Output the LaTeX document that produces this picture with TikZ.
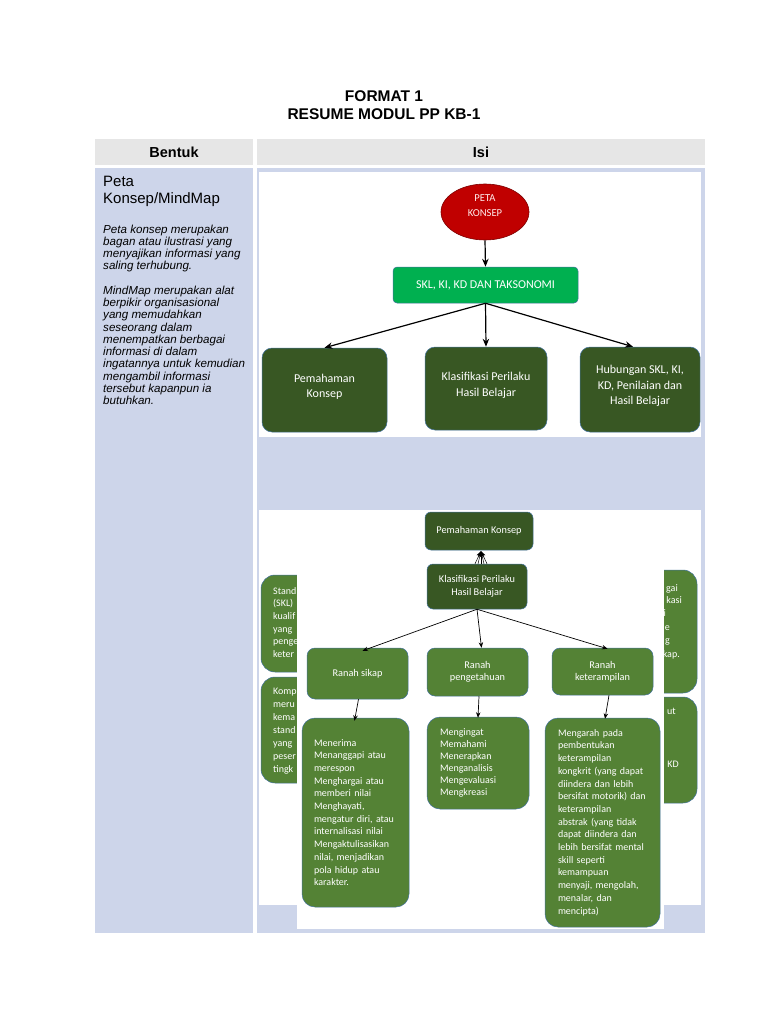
\documentclass[tikz,border=0pt]{standalone}
\usepackage{fontspec}
\setmainfont{Liberation Sans}
\newfontfamily\calfont{Carlito}
\usetikzlibrary{arrows.meta,shapes.geometric,calc}
\definecolor{lav}{HTML}{CDD5EA}
\definecolor{hdr}{HTML}{E6E6E6}
\definecolor{dkg}{HTML}{385723}
\definecolor{mdg}{HTML}{548235}
\definecolor{brg}{HTML}{00B050}
\definecolor{redc}{HTML}{C00000}
\definecolor{edgec}{HTML}{41719C}
\begin{document}
\begin{tikzpicture}[x=1pt,y=-1pt,
  dkbox/.style={fill=dkg, draw=edgec, line width=0.5pt, rounded corners=10pt, text=white, inner sep=0pt, align=center, text depth=8.5pt, font=\calfont\fontsize{12}{15.5}\selectfont},
  smdark/.style={fill=dkg, draw=edgec, line width=0.5pt, rounded corners=6pt, text=white, inner sep=0pt, align=center, font=\calfont\fontsize{10.3}{12.5}\selectfont},
  mdbox/.style={fill=mdg, draw=edgec, line width=0.5pt, rounded corners=8pt, text=white, inner sep=0pt, align=center, font=\calfont\fontsize{10.3}{12.5}\selectfont},
  listbox/.style={fill=mdg, draw=edgec, line width=0.5pt, rounded corners=13pt, text=white, inner xsep=12pt, inner ysep=0pt, align=left, font=\calfont\fontsize{10}{12.7}\selectfont},
  sidebox/.style={fill=mdg, draw=edgec, line width=0.5pt, rounded corners=14pt},
  frag/.style={text=white, inner sep=0pt, font=\calfont\fontsize{10}{12.7}\selectfont},
  bigarr/.style={line width=1.2pt, -{Stealth[length=8pt,width=6.5pt]}},
  smarr/.style={line width=0.7pt, -{Stealth[length=5.5pt,width=4.5pt]}}]
\useasboundingbox (0,0) rectangle (768,1024);
\fill[white] (0,0) rectangle (768,1024);
% title
\node[font=\bfseries\fontsize{15.5}{18}\selectfont, inner sep=0pt] (t1) at (384,96) {FORMAT 1};
\node[font=\bfseries\fontsize{15.5}{18}\selectfont, inner sep=0pt] (t2) at (384,114) {RESUME MODUL PP KB-1};
% table header
\fill[hdr] (95,139) rectangle (253,165);
\fill[hdr] (257,139) rectangle (705,165);
\node[font=\bfseries\fontsize{14.5}{17}\selectfont, inner sep=0pt] (h1) at (174,152) {Bentuk};
\node[font=\bfseries\fontsize{14.5}{17}\selectfont, inner sep=0pt] (h2) at (481,152) {Isi};
% body cells
\fill[lav] (95,168) rectangle (253,933);
\fill[lav] (257,168) rectangle (705,933);
% left column text
\node[anchor=base west, inner sep=0pt, font=\fontsize{15}{17}\selectfont] (lt1) at (103,187) {Peta};
\node[anchor=base west, inner sep=0pt, font=\fontsize{15}{17}\selectfont] (lt2) at (103,204) {Konsep/MindMap};
\node[anchor=north west, inner sep=0pt, align=left, font=\itshape\fontsize{11.6}{12.25}\selectfont] (desc) at (103,224.5)
 {Peta konsep merupakan\\bagan atau ilustrasi yang\\menyajikan informasi yang\\saling terhubung.\\[12.25pt]MindMap merupakan alat\\berpikir organisasional\\yang memudahkan\\seseorang dalam\\menempatkan berbagai\\informasi di dalam\\ingatannya untuk kemudian\\mengambil informasi\\tersebut kapanpun ia\\butuhkan.};
% ===== top picture =====
\fill[white] (259,172) rectangle (701,437);
\node[ellipse, fill=redc, draw=redc!65!black, line width=0.6pt, minimum width=88pt, minimum height=56pt, inner sep=0pt, text=white!92!red, align=center, text depth=12pt, font=\calfont\fontsize{10.6}{15}\selectfont] (peta) at (485,212) {PETA\\KONSEP};
\node[fill=brg, draw=edgec, line width=0.5pt, rounded corners=4pt, minimum width=185pt, minimum height=36pt, inner sep=0pt, text=white, font=\calfont\fontsize{12}{14}\selectfont] (skl) at (485.5,285) {SKL, KI, KD DAN TAKSONOMI};
\node[dkbox, minimum width=125pt, minimum height=84pt] (pem1) at (324.5,390) {Pemahaman\\Konsep};
\node[dkbox, minimum width=122pt, minimum height=83pt] (kla1) at (486,388.5) {Klasifikasi Perilaku\\Hasil Belajar};
\node[dkbox, minimum width=120pt, minimum height=85pt] (hub1) at (640,389.5) {Hubungan SKL, KI,\\KD, Penilaian dan\\Hasil Belajar};
\draw[bigarr] (peta.south) -- (skl.north);
\draw[bigarr] (skl.south) -- (pem1.north);
\draw[bigarr] (skl.south) -- (kla1.north);
\draw[bigarr] (skl.south) -- ($(hub1.north)+(-7,0)$);
% ===== bottom picture =====
\fill[white] (259,510) rectangle (701,905);
% partly hidden side boxes
\draw[sidebox] (261,575) rectangle (340,672);
\draw[sidebox] (261,677) rectangle (340,783);
\draw[sidebox] (620,570) rectangle (697,693);
\draw[sidebox] (620,697) rectangle (697,803);
\foreach \t [count=\i] in {Stand,(SKL),kualif,yang,penge,keter}
  \node[frag, anchor=base west] (la\i) at (273,{594+(\i-1)*12.7}) {\t};
\foreach \t [count=\i] in {Komp,meru,kema,stand,yang,peser,tingk}
  \node[frag, anchor=base west] (lb\i) at (273,{694+(\i-1)*13.1}) {\t};
\node[frag, anchor=base east] (ra1) at (678,591) {gai};
\node[frag, anchor=base east] (ra2) at (682,603.5) {kasi};
\node[frag, anchor=base east] (ra3) at (666,616.5) {i};
\node[frag, anchor=base east] (ra4) at (670,630) {e};
\node[frag, anchor=base east] (ra5) at (670,643.5) {g};
\node[frag, anchor=base east] (ra6) at (680,657) {kap.};
\node[frag, anchor=base east] (rb1) at (676,714) {ut};
\node[frag, anchor=base east] (rb2) at (679,767) {KD};
% white cover
\fill[white] (297,556) rectangle (664,929);
% central map
\node[smdark, minimum width=108pt, minimum height=38pt] (pem2) at (479,531) {Pemahaman Konsep};
\node[smdark, minimum width=100pt, minimum height=45pt] (kla2) at (477,586.5) {Klasifikasi Perilaku\\Hasil Belajar};
\node[mdbox, minimum width=101pt, minimum height=51pt] (sik) at (357.5,673.5) {Ranah sikap};
\node[mdbox, minimum width=101pt, minimum height=48pt] (pen) at (477.5,672) {Ranah\\pengetahuan};
\node[mdbox, minimum width=101pt, minimum height=47pt] (ket) at (602.5,671.5) {Ranah\\keterampilan};
\foreach \dx [count=\i] in {-6,-3,0,3,6}
  \draw[smarr, line width=0.5pt] ($(kla2.north)+(\dx+4,0)$) -- ($(pem2.south)+(2,1)$);
\draw[smarr] (kla2.south) -- ($(sik.north)+(5,3)$);
\draw[smarr] (kla2.south) -- ($(pen.north)+(4,0)$);
\draw[smarr] (kla2.south) -- ($(ket.north)+(5,1)$);
\node[listbox, text width=83pt, minimum height=189pt] (ner) at (355.5,812.5)
 {Menerima\\Menanggapi atau\\merespon\\Menghargai atau\\memberi nilai\\Menghayati,\\mengatur diri, atau\\internalisasi nilai\\Mengaktulisasikan\\nilai, menjadikan\\pola hidup atau\\karakter.};
\node[listbox, font=\calfont\fontsize{10}{12}\selectfont, text width=76pt, inner xsep=13pt, minimum height=92pt] (ing) at (478,763)
 {Mengingat\\Memahami\\Menerapkan\\Menganalisis\\Mengevaluasi\\Mengkreasi};
\node[listbox, text width=89pt, inner xsep=13pt, minimum height=209pt] (arah) at (602.5,822.5)
 {Mengarah pada\\pembentukan\\keterampilan\\kongkrit (yang dapat\\diindera dan lebih\\bersifat motorik) dan\\keterampilan\\abstrak (yang tidak\\dapat diindera dan\\lebih bersifat mental\\skill seperti\\kemampuan\\menyaji, mengolah,\\menalar, dan\\mencipta)};
\draw[smarr] ($(sik.south)+(1,0)$) -- ($(ner.north)+(-1,3)$);
\draw[smarr] ($(pen.south)+(1.5,0)$) -- ($(ing.north)+(0,1)$);
\draw[smarr] ($(ket.south)+(6.5,0)$) -- ($(arah.north)+(2.5,1)$);
\end{tikzpicture}
\end{document}
